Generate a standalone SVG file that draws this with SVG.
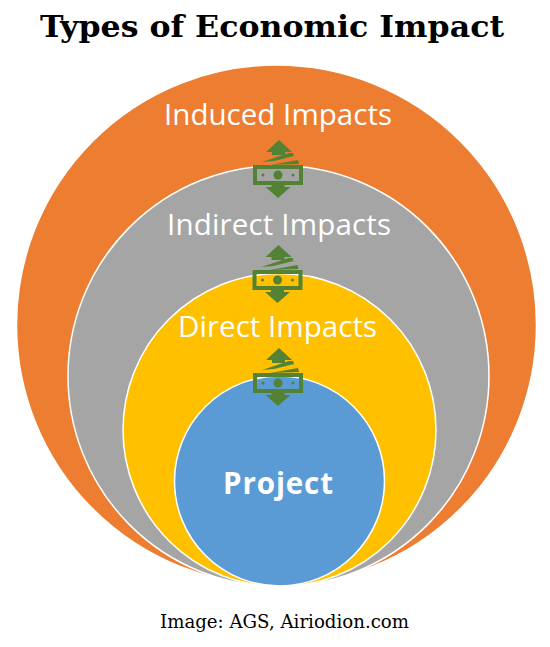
<svg xmlns="http://www.w3.org/2000/svg" width="550" height="647" viewBox="0 0 550 647">
<style>
.c{stroke:#fff;stroke-width:1.5}
.lb{font-family:"Open Sans","Noto Sans",sans-serif;fill:#fff;text-anchor:middle;font-size:29.5px}
.t{font-family:"DejaVu Serif",serif;fill:#000;text-anchor:middle}
.g{fill:#548235}
.n{fill:none;stroke:#548235;stroke-width:4}
</style>
<defs>
<g id="money">
<path class="g" d="M1-25 L14-13 H7 V-10 H-6 V-13 H-12Z"/>
<path class="g" d="M-16-3 L11-12 L15-12 L16-9 L-4-4Z M-8 0 L20-5 L21-1Z"/>
<rect class="n" x="-23" y="2" width="46" height="16"/>
<circle class="g" cx="0" cy="10" r="4.5"/>
<circle class="g" cx="-15" cy="10" r="1.5"/>
<circle class="g" cx="15" cy="10" r="1.5"/>
<path class="g" d="M-6.500 20 H6.500 V22 H12.500 L0 33 L-12.500 22 H-6.500Z"/>
</g>
</defs>
<rect width="550" height="647" fill="#fff"/>
<text class="t" x="272" y="37" font-size="29" font-weight="bold" textLength="464" lengthAdjust="spacingAndGlyphs">Types of Economic Impact</text>
<g id="induced"><circle class="c" cx="276.500" cy="325" r="260" fill="#ed7d31"/><text class="lb" x="278" y="125" textLength="228">Induced Impacts</text></g>
<g id="indirect"><circle class="c" cx="278.500" cy="376" r="210.500" fill="#a5a5a5"/><text class="lb" x="279" y="235" textLength="224">Indirect Impacts</text></g>
<g id="direct"><circle class="c" cx="279.500" cy="430" r="156.500" fill="#ffc000"/><text class="lb" x="277.500" y="337" textLength="199">Direct Impacts</text></g>
<g id="project"><circle class="c" cx="279.500" cy="481" r="105" fill="#5b9bd5"/><text class="lb" x="278" y="494" font-size="32" font-weight="bold" textLength="110">Project</text></g>
<g id="connectors">
<use href="#money" x="278" y="165"/>
<use href="#money" x="277.500" y="270"/>
<use href="#money" x="278" y="373"/>
</g>
<text class="t" x="284.500" y="628" font-size="19" textLength="249" lengthAdjust="spacingAndGlyphs">Image: AGS, Airiodion.com</text>
</svg>
